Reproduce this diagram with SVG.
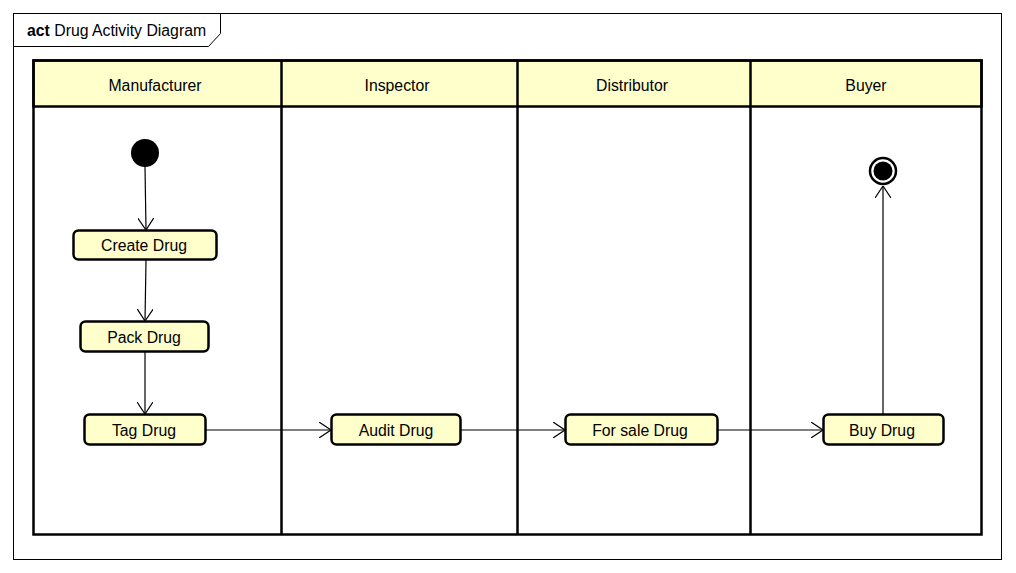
<svg xmlns="http://www.w3.org/2000/svg" width="1016" height="573" viewBox="0 0 1016 573">
<style>
text{font-family:"Liberation Sans",Arial,sans-serif;font-size:15.8px;fill:#000}
.lbl{text-anchor:middle;dominant-baseline:central}
.act{fill:#ffffcc;stroke:#000;stroke-width:2.5}
.lane{fill:none;stroke:#000;stroke-width:2.5}
.hdr{fill:#ffffcc;stroke:#000;stroke-width:2.5}
.edge{fill:none;stroke:#000;stroke-width:1.2}
</style>
<defs>
<marker id="open" viewBox="0 0 12 16" refX="12" refY="8" markerWidth="12" markerHeight="16" markerUnits="userSpaceOnUse" orient="auto">
<path d="M0,0 L12,8 L0,16" fill="none" stroke="#000" stroke-width="1.2"/>
</marker>
</defs>
<rect width="1016" height="573" fill="#fff"/>
<g id="frame">
<rect x="13.5" y="13.5" width="988" height="546" fill="#fff" stroke="#000" stroke-width="1"/>
<path d="M13.5,46.5 H208.5 L220.5,33.5 V13.5" fill="none" stroke="#000" stroke-width="1"/>
<text x="27" y="36"><tspan font-weight="bold">act</tspan> Drug Activity Diagram</text>
</g>
<g id="swimlanes">
<rect class="hdr" x="33.5" y="60.5" width="948" height="46"/>
<rect class="lane" x="33.5" y="60.5" width="948" height="474"/>
<line class="lane" x1="281.5" y1="60.5" x2="281.5" y2="534.5"/>
<line class="lane" x1="517.5" y1="60.5" x2="517.5" y2="534.5"/>
<line class="lane" x1="750.5" y1="60.5" x2="750.5" y2="534.5"/>
<text class="lbl" x="155" y="85">Manufacturer</text>
<text class="lbl" x="397" y="85">Inspector</text>
<text class="lbl" x="632" y="85">Distributor</text>
<text class="lbl" x="866" y="85">Buyer</text>
</g>
<g id="connectors">
<line class="edge" x1="145" y1="167" x2="146" y2="230" marker-end="url(#open)"/>
<line class="edge" x1="146" y1="260" x2="145" y2="321" marker-end="url(#open)"/>
<line class="edge" x1="145" y1="352" x2="145" y2="414" marker-end="url(#open)"/>
<line class="edge" x1="205" y1="430" x2="331" y2="430" marker-end="url(#open)"/>
<line class="edge" x1="461" y1="430" x2="565" y2="430" marker-end="url(#open)"/>
<line class="edge" x1="718" y1="430" x2="823" y2="430" marker-end="url(#open)"/>
<line class="edge" x1="883" y1="414" x2="883" y2="186" marker-end="url(#open)"/>
</g>
<g id="initial">
<circle cx="145" cy="153" r="14" fill="#000"/>
</g>
<g id="create-drug">
<rect class="act" x="73.5" y="230.5" width="143" height="29" rx="5"/>
<text class="lbl" x="144" y="245.5">Create Drug</text>
</g>
<g id="pack-drug">
<rect class="act" x="80.5" y="321.5" width="128" height="30" rx="5"/>
<text class="lbl" x="144" y="337.5">Pack Drug</text>
</g>
<g id="tag-drug">
<rect class="act" x="84.5" y="414.5" width="121" height="30" rx="5"/>
<text class="lbl" x="144" y="430.5">Tag Drug</text>
</g>
<g id="audit-drug">
<rect class="act" x="331.5" y="414.5" width="129" height="30" rx="5"/>
<text class="lbl" x="396" y="430.5">Audit Drug</text>
</g>
<g id="for-sale-drug">
<rect class="act" x="565.5" y="414.5" width="152" height="30" rx="5"/>
<text class="lbl" x="640" y="430.5">For sale Drug</text>
</g>
<g id="buy-drug">
<rect class="act" x="823.5" y="414.5" width="120" height="30" rx="5"/>
<text class="lbl" x="882" y="430.5">Buy Drug</text>
</g>
<g id="final">
<circle cx="883" cy="171" r="13" fill="#fff" stroke="#000" stroke-width="2.5"/>
<circle cx="883" cy="171" r="9.5" fill="#000"/>
</g>
</svg>
